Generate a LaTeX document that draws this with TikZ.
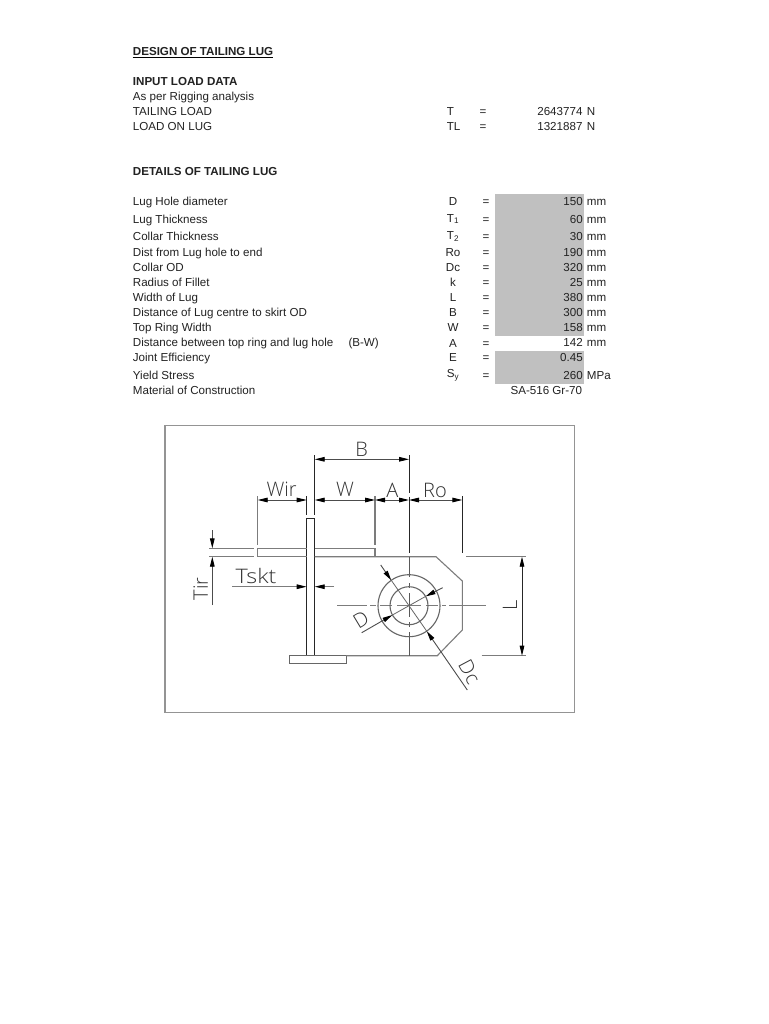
\documentclass[tikz,border=0pt]{standalone}
\usepackage{fontspec}
\setmainfont{Liberation Sans}
\newfontfamily\cadfont{Open Sans Light}
\usetikzlibrary{arrows.meta}
\definecolor{ink}{HTML}{222222}
\definecolor{cellgray}{HTML}{C0C0C0}
\definecolor{cadgray}{HTML}{7C7C7C}
\definecolor{cadtext}{HTML}{333333}
\tikzset{
  txt/.style={inner sep=0pt,yshift=-4.1pt,text=ink,font=\fontsize{11.6}{12}\selectfont},
  lbl/.style={txt,anchor=base west},
  hdr/.style={txt,anchor=base west,font=\fontsize{11.6}{12}\selectfont\bfseries},
  sym/.style={txt,anchor=base},
  val/.style={txt,anchor=base east},
  cad/.style={inner sep=0pt,text=cadtext,font=\cadfont\fontsize{20}{22}\selectfont},
  frameline/.style={draw=black!42,line width=1.2pt},
  dark/.style={draw=black!85,line width=0.95pt},
  thin/.style={draw=cadgray,line width=1.1pt},
  head/.tip={Triangle[length=10pt,width=4.6pt,color=black,fill=black]},
  dim/.style={draw=black!70,line width=0.9pt,head-head},
  tip/.style={draw=black!70,line width=0.9pt,-head},
}
\begin{document}
\begin{tikzpicture}[x=1pt,y=-1pt]
\useasboundingbox[fill=white] (0,0) rectangle (768,1024);
% shaded input cells
\fill[cellgray] (495,194) rectangle (584,336);
\fill[cellgray] (495,350.7) rectangle (584,383.7);
% headings
\node[hdr] (title) at (132.7,51.5) {DESIGN OF TAILING LUG};
\draw[black,line width=1.3pt] (132.5,57.7) -- (273,57.7);
\node[hdr] (input) at (132.7,81.5) {INPUT LOAD DATA};
\node[lbl] (asper) at (132.7,96.5) {As per Rigging analysis};
\node[lbl] (tl1) at (132.7,111.7) {TAILING LOAD};
\node[lbl] (tl2) at (132.7,126.2) {LOAD ON LUG};
\node[lbl] (ts1) at (446.7,111.7) {T};
\node[sym] (te1) at (483,111.7) {=};
\node[val] (tv1) at (582.7,111.7) {2643774};
\node[lbl] (tu1) at (586.7,111.7) {N};
\node[lbl] (ts2) at (446.7,126.2) {TL};
\node[sym] (te2) at (483,126.2) {=};
\node[val] (tv2) at (582.7,126.2) {1321887};
\node[lbl] (tu2) at (586.7,126.2) {N};
\node[hdr] (details) at (132.7,171.5) {DETAILS OF TAILING LUG};
% table rows
\node[lbl] (l1) at (132.7,201.7) {Lug Hole diameter};
\node[sym] (s1) at (453,201.7) {D};
\node[sym] (e1) at (486,201.7) {=};
\node[val] (v1) at (583,201.7) {150};
\node[lbl] (u1) at (586.7,201.7) {mm};
\node[lbl] (l2) at (132.7,219) {Lug Thickness};
\node[sym] (s2) at (453,218) {T\textsubscript{1}};
\node[sym] (e2) at (486,219) {=};
\node[val] (v2) at (583,219) {60};
\node[lbl] (u2) at (586.7,219) {mm};
\node[lbl] (l3) at (132.7,236.7) {Collar Thickness};
\node[sym] (s3) at (453,235.7) {T\textsubscript{2}};
\node[sym] (e3) at (486,236.7) {=};
\node[val] (v3) at (583,236.7) {30};
\node[lbl] (u3) at (586.7,236.7) {mm};
\node[lbl] (l4) at (132.7,252.3) {Dist from Lug hole to end};
\node[sym] (s4) at (453,252.3) {Ro};
\node[sym] (e4) at (486,252.3) {=};
\node[val] (v4) at (583,252.3) {190};
\node[lbl] (u4) at (586.7,252.3) {mm};
\node[lbl] (l5) at (132.7,266.9) {Collar OD};
\node[sym] (s5) at (453,267.5) {Dc};
\node[sym] (e5) at (486,267.5) {=};
\node[val] (v5) at (583,267) {320};
\node[lbl] (u5) at (586.7,267) {mm};
\node[lbl] (l6) at (132.7,282.3) {Radius of Fillet};
\node[sym] (s6) at (453,282.3) {k};
\node[sym] (e6) at (486,282.3) {=};
\node[val] (v6) at (583,282.3) {25};
\node[lbl] (u6) at (586.7,282.3) {mm};
\node[lbl] (l7) at (132.7,297.7) {Width of Lug};
\node[sym] (s7) at (453,297.7) {L};
\node[sym] (e7) at (486,297.7) {=};
\node[val] (v7) at (583,297.7) {380};
\node[lbl] (u7) at (586.7,297.7) {mm};
\node[lbl] (l8) at (132.7,312.7) {Distance of Lug centre to skirt OD};
\node[sym] (s8) at (453,312.7) {B};
\node[sym] (e8) at (486,312.7) {=};
\node[val] (v8) at (583,312.7) {300};
\node[lbl] (u8) at (586.7,312.7) {mm};
\node[lbl] (l9) at (132.7,327.7) {Top Ring Width};
\node[sym] (s9) at (453,327.7) {W};
\node[sym] (e9) at (486,327.7) {=};
\node[val] (v9) at (583,327.7) {158};
\node[lbl] (u9) at (586.7,327.7) {mm};
\node[lbl] (l10) at (132.7,342.7) {Distance between top ring and lug hole};
\node[lbl] (bw) at (348.3,342.7) {(B-W)};
\node[sym] (s10) at (453,343) {A};
\node[sym] (e10) at (486,343) {=};
\node[val] (v10) at (583,342.7) {142};
\node[lbl] (u10) at (586.7,342.7) {mm};
\node[lbl] (l11) at (132.7,357.7) {Joint Efficiency};
\node[sym] (s11) at (453,357.7) {E};
\node[sym] (e11) at (486,357.7) {=};
\node[val] (v11) at (583,357.7) {0.45};
\node[lbl] (l12) at (132.7,375) {Yield Stress};
\node[sym] (s12) at (453,373.5) {S\textsubscript{y}};
\node[sym] (e12) at (486,375) {=};
\node[val] (v12) at (583,375) {260};
\node[lbl] (u12) at (586.7,375) {MPa};
\node[lbl] (l13) at (132.7,390) {Material of Construction};
\node[val] (v13) at (582.3,390.7) {SA-516 Gr-70};
% drawing frame
\draw[frameline] (165,425.7) rectangle (574.5,712.3);
% skirt, base plate, top ring
\draw[dark] (306.7,518.3) -- (314.7,518.3);
\draw[dark] (306.7,518.3) -- (306.7,655.7);
\draw[dark] (314.7,518.3) -- (314.7,655.7);
\draw[dark,draw=black!60] (289.3,655.7) rectangle (346,663.7);
\draw[thin] (306.7,548.3) -- (257.7,548.3) -- (257.7,556.7) -- (306.7,556.7);
\draw[thin] (314.7,548.3) -- (375,548.3) -- (375,556.7) -- (314.7,556.7);
% lug outline
\draw[thin] (314.7,556.7) -- (436,556.7) -- (462.3,581) -- (462.3,630) -- (437.3,655.7) -- (346,655.7);
% extension lines
\draw[dark] (314.7,455) -- (314.7,514.5);
\draw[dark] (306.7,496) -- (306.7,514.5);
\draw[dark] (409,455) -- (409,492.5);
\draw[dark] (409,496.7) -- (409,552.7);
\draw[thin] (257.7,496) -- (257.7,545);
\draw[thin] (375,496) -- (375,545);
\draw[dark] (462.3,496) -- (462.3,552.7);
\draw[thin] (209.3,548.3) -- (254.3,548.3);
\draw[thin] (209.3,556.7) -- (254.3,556.7);
\draw[thin] (466,556.7) -- (526,556.7);
\draw[thin] (481.7,655.7) -- (526,655.7);
% dimension lines
\coordinate (bl) at (314.7,459.3); \coordinate (br) at (409,459.3);
\draw[dim] (bl) -- (br);
\coordinate (wl) at (257.7,500); \coordinate (wr) at (306.7,500);
\draw[dim] (wl) -- (wr);
\coordinate (w2l) at (314.7,500); \coordinate (w2r) at (375,500);
\draw[dim] (w2l) -- (w2r);
\coordinate (al) at (375,500); \coordinate (ar) at (409,500);
\draw[dim] (al) -- (ar);
\coordinate (rl) at (409,500); \coordinate (rr) at (462.3,500);
\draw[dim] (rl) -- (rr);
\coordinate (ll) at (522,556.7); \coordinate (lb) at (522,655.7);
\draw[dim,draw=black!85] (ll) -- (lb);
\coordinate (t1) at (212.3,530); \coordinate (t1e) at (212.3,548.3);
\draw[tip] (t1) -- (t1e);
\coordinate (t2) at (212.3,605); \coordinate (t2e) at (212.3,556.7);
\draw[tip] (t2) -- (t2e);
\coordinate (s1a) at (232.3,586.7); \coordinate (s1b) at (306.7,586.7);
\draw[tip,draw=cadgray] (s1a) -- (s1b);
\coordinate (s2a) at (334,586.7); \coordinate (s2b) at (314.7,586.7);
\draw[tip,draw=cadgray] (s2a) -- (s2b);
% centre lines
\draw[thin,line width=0.8pt] (337,605.7) -- (367,605.7) (370,605.7) -- (376,605.7) (380,605.7) -- (392,605.7) (397,605.7) -- (421,605.7) (426,605.7) -- (438,605.7) (442,605.7) -- (446,605.7) (449,605.7) -- (485.7,605.7);
\draw[dark,draw=black!65] (409,556.7) -- (409,576.7) (409,583) -- (409,588) (409,593) -- (409,617) (409,622) -- (409,627) (409,632) -- (409,655.7);
% collar circles
\coordinate (cc) at (409,605.7);
\draw[thin,draw=black!60] (cc) circle[radius=31];
\draw[thin,draw=black!60] (cc) circle[radius=19];
% diameter leaders
\coordinate (d1) at (442.7,587.7); \coordinate (d1t) at (425.6,596.4);
\draw[tip] (d1) -- (d1t);
\coordinate (d2) at (361.7,632.7); \coordinate (d2t) at (392.4,615);
\draw[tip] (d2) -- (d2t);
\draw[thin,draw=black!60,line width=0.8pt] (d1t) -- (d2t);
\coordinate (c1) at (380.7,565); \coordinate (c1t) at (391.3,580.3);
\draw[tip] (c1) -- (c1t);
\coordinate (c2) at (467.3,690); \coordinate (c2t) at (426.7,631.1);
\draw[tip] (c2) -- (c2t);
\draw[thin,draw=black!60,line width=0.8pt] (c1t) -- (c2t);
% drawing labels
\node[cad] (cb) at (361.7,449) {B};
\node[cad] (cwir) at (281.7,489) {Wir};
\node[cad] (cw) at (345,489) {W};
\node[cad] (ca) at (392.3,490.7) {A};
\node[cad] (cro) at (435,490) {Ro};
\node[cad] (ctskt) at (256,576) {\scalebox{1.17}[1]{Tskt}};
\node[cad,rotate=90] (ctir) at (200.7,589) {Tir};
\node[cad,rotate=90] (cl) at (510,605.5) {L};
\node[cad,rotate=31] (cd) at (361,620) {D};
\node[cad,rotate=-62] (cdc) at (469.5,672) {Dc};
\end{tikzpicture}
\end{document}
